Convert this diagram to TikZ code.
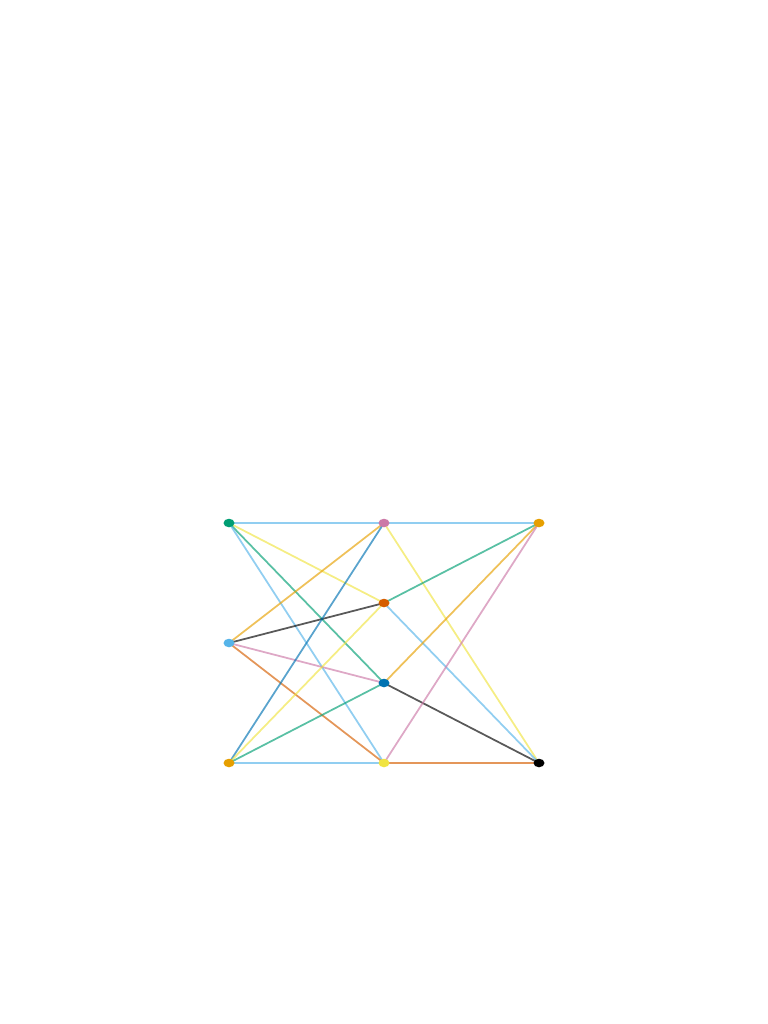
\documentclass[tikz,border=0pt]{standalone}
\usetikzlibrary{shapes.geometric,backgrounds}

\definecolor{oiblack}{HTML}{000000}
\definecolor{oiorange}{HTML}{E69F00}
\definecolor{oisky}{HTML}{56B4E9}
\definecolor{oigreen}{HTML}{009E73}
\definecolor{oiyellow}{HTML}{F0E442}
\definecolor{oiblue}{HTML}{0072B2}
\definecolor{oiverm}{HTML}{D55E00}
\definecolor{oipurple}{HTML}{CC79A7}

\begin{document}
\begin{tikzpicture}[x=0.01cm,y=-0.01cm,
  vert/.style={ellipse,inner sep=0pt,minimum width=0.11cm,minimum height=0.085cm},
  edge/.style={line width=0.5pt,draw opacity=0.65}]
\useasboundingbox (0,0) rectangle (768,1024);

% vertices
\node [vert,fill=oigreen]  (a) at (229,523) {};
\node [vert,fill=oisky]    (b) at (229,643) {};
\node [vert,fill=oiorange] (c) at (229,763) {};
\node [vert,fill=oipurple] (d) at (384,523) {};
\node [vert,fill=oiverm]   (e) at (384,603) {};
\node [vert,fill=oiblue]   (f) at (384,683) {};
\node [vert,fill=oiyellow] (g) at (384,763) {};
\node [vert,fill=oiorange] (h) at (539,523) {};
\node [vert,fill=oiblack]  (i) at (539,763) {};

% edges
\begin{scope}[on background layer]
\draw [edge,oisky]    (a.center) -- (d.center);
\draw [edge,oisky]    (d.center) -- (h.center);
\draw [edge,oiyellow] (a.center) -- (e.center);
\draw [edge,oigreen]  (a.center) -- (f.center);
\draw [edge,oisky]    (a.center) -- (g.center);
\draw [edge,oiorange] (b.center) -- (d.center);
\draw [edge,oiblack]  (b.center) -- (e.center);
\draw [edge,oipurple] (b.center) -- (f.center);
\draw [edge,oiverm]   (b.center) -- (g.center);
\draw [edge,oiblue]   (c.center) -- (d.center);
\draw [edge,oiyellow] (c.center) -- (e.center);
\draw [edge,oigreen]  (c.center) -- (f.center);
\draw [edge,oisky]    (c.center) -- (g.center);
\draw [edge,oiyellow] (d.center) -- (i.center);
\draw [edge,oigreen]  (e.center) -- (h.center);
\draw [edge,oisky]    (e.center) -- (i.center);
\draw [edge,oiorange] (f.center) -- (h.center);
\draw [edge,oiblack]  (f.center) -- (i.center);
\draw [edge,oipurple] (g.center) -- (h.center);
\draw [edge,oiverm]   (g.center) -- (i.center);
\end{scope}

\end{tikzpicture}
\end{document}
